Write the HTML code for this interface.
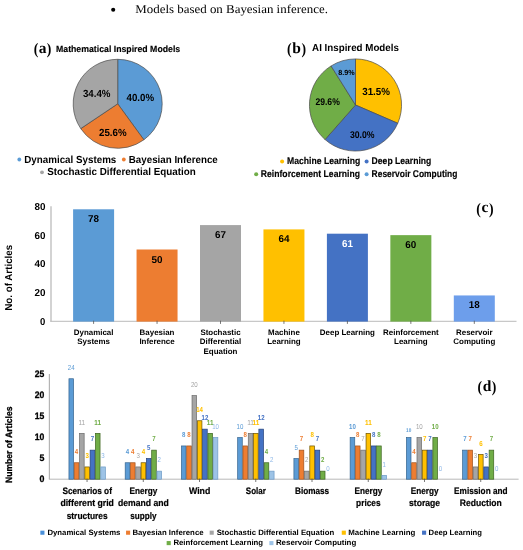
<!DOCTYPE html>
<html><head><meta charset="utf-8"><title>Figure</title>
<style>html,body{margin:0;padding:0;background:#fff}svg{display:block}</style></head>
<body>
<svg width="523" height="550" viewBox="0 0 523 550" text-rendering="geometricPrecision">
<rect width="523" height="550" fill="#fff"/>
<circle cx="113.2" cy="9.75" r="2.05" fill="#000"/>
<text x="135.30" y="13.45" font-size="12" font-weight="normal" fill="#000" text-anchor="start" font-family="Liberation Serif, Times New Roman, serif" textLength="192.60" lengthAdjust="spacingAndGlyphs" >Models based on Bayesian inference.</text>
<text transform="translate(33.70,54.20) scale(0.86,1)" font-size="16.0" font-weight="bold" font-family="Liberation Serif, Times New Roman, serif">(</text>
<text transform="translate(51.30,54.20) scale(0.86,1)" font-size="16.0" font-weight="bold" text-anchor="end" font-family="Liberation Serif, Times New Roman, serif">)</text>
<text x="42.50" y="53.00" font-size="15.5" font-weight="bold" fill="#000" text-anchor="middle" font-family="Liberation Serif, Times New Roman, serif" >a</text>
<text x="56.00" y="52.00" font-size="9.1" font-weight="bold" fill="#000" text-anchor="start" font-family="Liberation Sans, Arial, sans-serif" textLength="124.20" lengthAdjust="spacingAndGlyphs" stroke="#000" stroke-width="0.15">Mathematical Inspired Models</text>
<path d="M117.70,103.80 L117.70,59.30 A44.5,44.5 0 0 1 143.86,139.80 Z" fill="#5B9BD5" stroke="#4a4a4a" stroke-width="0.7" stroke-linejoin="round"/>
<path d="M117.70,103.80 L143.86,139.80 A44.5,44.5 0 0 1 80.74,128.58 Z" fill="#ED7D31" stroke="#4a4a4a" stroke-width="0.7" stroke-linejoin="round"/>
<path d="M117.70,103.80 L80.74,128.58 A44.5,44.5 0 0 1 117.70,59.30 Z" fill="#A5A5A5" stroke="#4a4a4a" stroke-width="0.7" stroke-linejoin="round"/>
<text x="126.50" y="101.00" font-size="10.3" font-weight="bold" fill="#000" text-anchor="start" font-family="Liberation Sans, Arial, sans-serif" textLength="27.60" lengthAdjust="spacingAndGlyphs" >40.0%</text>
<text x="82.90" y="97.00" font-size="10.3" font-weight="bold" fill="#000" text-anchor="start" font-family="Liberation Sans, Arial, sans-serif" textLength="27.60" lengthAdjust="spacingAndGlyphs" >34.4%</text>
<text x="99.00" y="136.00" font-size="10.3" font-weight="bold" fill="#000" text-anchor="start" font-family="Liberation Sans, Arial, sans-serif" textLength="27.60" lengthAdjust="spacingAndGlyphs" >25.6%</text>
<circle cx="19.3" cy="159.5" r="1.9" fill="#5B9BD5"/>
<text x="24.30" y="162.50" font-size="10.25" font-weight="bold" fill="#000" text-anchor="start" font-family="Liberation Sans, Arial, sans-serif" textLength="92.00" lengthAdjust="spacingAndGlyphs" >Dynamical Systems</text>
<circle cx="123.8" cy="159.5" r="1.9" fill="#ED7D31"/>
<text x="128.80" y="162.50" font-size="10.25" font-weight="bold" fill="#000" text-anchor="start" font-family="Liberation Sans, Arial, sans-serif" textLength="89.00" lengthAdjust="spacingAndGlyphs" >Bayesian Inference</text>
<circle cx="42" cy="172.3" r="1.9" fill="#A5A5A5"/>
<text x="47.20" y="175.40" font-size="10.25" font-weight="bold" fill="#000" text-anchor="start" font-family="Liberation Sans, Arial, sans-serif" textLength="148.60" lengthAdjust="spacingAndGlyphs" >Stochastic Differential Equation</text>
<text transform="translate(286.90,53.90) scale(0.86,1)" font-size="16.0" font-weight="bold" font-family="Liberation Serif, Times New Roman, serif">(</text>
<text transform="translate(306.00,53.90) scale(0.86,1)" font-size="16.0" font-weight="bold" text-anchor="end" font-family="Liberation Serif, Times New Roman, serif">)</text>
<text x="296.45" y="52.60" font-size="15.5" font-weight="bold" fill="#000" text-anchor="middle" font-family="Liberation Serif, Times New Roman, serif" >b</text>
<text x="312.10" y="51.00" font-size="10.1" font-weight="bold" fill="#000" text-anchor="start" font-family="Liberation Sans, Arial, sans-serif" textLength="86.80" lengthAdjust="spacingAndGlyphs" >AI Inspired Models</text>
<path d="M355.50,105.00 L355.50,58.95 A46.05,46.05 0 0 1 397.76,123.29 Z" fill="#FFC000" stroke="#4a4a4a" stroke-width="0.7" stroke-linejoin="round"/>
<path d="M355.50,105.00 L397.76,123.29 A46.05,46.05 0 0 1 325.05,139.54 Z" fill="#4472C4" stroke="#4a4a4a" stroke-width="0.7" stroke-linejoin="round"/>
<path d="M355.50,105.00 L325.05,139.54 A46.05,46.05 0 0 1 331.07,65.96 Z" fill="#70AD47" stroke="#4a4a4a" stroke-width="0.7" stroke-linejoin="round"/>
<path d="M355.50,105.00 L331.07,65.96 A46.05,46.05 0 0 1 355.50,58.95 Z" fill="#5B9BD5" stroke="#4a4a4a" stroke-width="0.7" stroke-linejoin="round"/>
<text x="362.20" y="95.00" font-size="10.3" font-weight="bold" fill="#000" text-anchor="start" font-family="Liberation Sans, Arial, sans-serif" textLength="27.80" lengthAdjust="spacingAndGlyphs" >31.5%</text>
<text x="315.40" y="105.00" font-size="9.8" font-weight="bold" fill="#000" text-anchor="start" font-family="Liberation Sans, Arial, sans-serif" textLength="24.40" lengthAdjust="spacingAndGlyphs" >29.6%</text>
<text x="349.90" y="138.00" font-size="9.8" font-weight="bold" fill="#000" text-anchor="start" font-family="Liberation Sans, Arial, sans-serif" textLength="24.60" lengthAdjust="spacingAndGlyphs" >30.0%</text>
<text x="338.20" y="75.00" font-size="7.4" font-weight="bold" fill="#000" text-anchor="start" font-family="Liberation Sans, Arial, sans-serif" textLength="16.40" lengthAdjust="spacingAndGlyphs" >8.9%</text>
<circle cx="282.1" cy="161.5" r="2.0" fill="#FFC000"/>
<text x="287.00" y="164.00" font-size="9.8" font-weight="bold" fill="#000" text-anchor="start" font-family="Liberation Sans, Arial, sans-serif" textLength="73.30" lengthAdjust="spacingAndGlyphs" stroke="#000" stroke-width="0.15">Machine Learning</text>
<circle cx="366.6" cy="161.5" r="2.0" fill="#4472C4"/>
<text x="371.60" y="164.00" font-size="9.8" font-weight="bold" fill="#000" text-anchor="start" font-family="Liberation Sans, Arial, sans-serif" textLength="59.80" lengthAdjust="spacingAndGlyphs" stroke="#000" stroke-width="0.15">Deep Learning</text>
<circle cx="256.2" cy="174.2" r="2.0" fill="#70AD47"/>
<text x="260.80" y="177.00" font-size="9.8" font-weight="bold" fill="#000" text-anchor="start" font-family="Liberation Sans, Arial, sans-serif" textLength="99.20" lengthAdjust="spacingAndGlyphs" stroke="#000" stroke-width="0.15">Reinforcement Learning</text>
<circle cx="366.6" cy="174.2" r="2.0" fill="#5B9BD5"/>
<text x="371.60" y="177.00" font-size="9.8" font-weight="bold" fill="#000" text-anchor="start" font-family="Liberation Sans, Arial, sans-serif" textLength="85.80" lengthAdjust="spacingAndGlyphs" stroke="#000" stroke-width="0.15">Reservoir Computing</text>
<path d="M51.0,206.2 V321.3" fill="none" stroke="#c8c8c8" stroke-width="1.6"/>
<path d="M50.2,321.3 H516.5" fill="none" stroke="#a8a8a8" stroke-width="0.8"/>
<text x="40.10" y="324.80" font-size="10" font-weight="bold" fill="#000" text-anchor="start" font-family="Liberation Sans, Arial, sans-serif" textLength="5.30" lengthAdjust="spacingAndGlyphs" >0</text>
<text x="34.40" y="296.08" font-size="10" font-weight="bold" fill="#000" text-anchor="start" font-family="Liberation Sans, Arial, sans-serif" textLength="11.00" lengthAdjust="spacingAndGlyphs" >20</text>
<text x="34.40" y="267.36" font-size="10" font-weight="bold" fill="#000" text-anchor="start" font-family="Liberation Sans, Arial, sans-serif" textLength="11.00" lengthAdjust="spacingAndGlyphs" >40</text>
<text x="34.40" y="238.64" font-size="10" font-weight="bold" fill="#000" text-anchor="start" font-family="Liberation Sans, Arial, sans-serif" textLength="11.00" lengthAdjust="spacingAndGlyphs" >60</text>
<text x="34.40" y="209.92" font-size="10" font-weight="bold" fill="#000" text-anchor="start" font-family="Liberation Sans, Arial, sans-serif" textLength="11.00" lengthAdjust="spacingAndGlyphs" >80</text>
<rect x="73.10" y="209.29" width="41" height="112.31" fill="#5B9BD5"/>
<text x="88.10" y="222.29" font-size="10" font-weight="bold" fill="#000" text-anchor="start" font-family="Liberation Sans, Arial, sans-serif" textLength="11.00" lengthAdjust="spacingAndGlyphs" >78</text>
<text x="93.60" y="334.80" font-size="7.95" font-weight="bold" fill="#000" text-anchor="middle" font-family="Liberation Sans, Arial, sans-serif" >Dynamical</text>
<text x="93.60" y="344.35" font-size="7.95" font-weight="bold" fill="#000" text-anchor="middle" font-family="Liberation Sans, Arial, sans-serif" >Systems</text>
<rect x="136.55" y="249.50" width="41" height="72.10" fill="#ED7D31"/>
<text x="151.55" y="262.50" font-size="10" font-weight="bold" fill="#000" text-anchor="start" font-family="Liberation Sans, Arial, sans-serif" textLength="11.00" lengthAdjust="spacingAndGlyphs" >50</text>
<text x="157.05" y="334.80" font-size="7.95" font-weight="bold" fill="#000" text-anchor="middle" font-family="Liberation Sans, Arial, sans-serif" >Bayesian</text>
<text x="157.05" y="344.35" font-size="7.95" font-weight="bold" fill="#000" text-anchor="middle" font-family="Liberation Sans, Arial, sans-serif" >Inference</text>
<rect x="200.00" y="225.09" width="41" height="96.51" fill="#A5A5A5"/>
<text x="215.00" y="238.09" font-size="10" font-weight="bold" fill="#000" text-anchor="start" font-family="Liberation Sans, Arial, sans-serif" textLength="11.00" lengthAdjust="spacingAndGlyphs" >67</text>
<text x="220.50" y="334.80" font-size="7.95" font-weight="bold" fill="#000" text-anchor="middle" font-family="Liberation Sans, Arial, sans-serif" >Stochastic</text>
<text x="220.50" y="344.35" font-size="7.95" font-weight="bold" fill="#000" text-anchor="middle" font-family="Liberation Sans, Arial, sans-serif" >Differential</text>
<text x="220.50" y="353.90" font-size="7.95" font-weight="bold" fill="#000" text-anchor="middle" font-family="Liberation Sans, Arial, sans-serif" >Equation</text>
<rect x="263.45" y="229.40" width="41" height="92.20" fill="#FFC000"/>
<text x="278.45" y="242.40" font-size="10" font-weight="bold" fill="#000" text-anchor="start" font-family="Liberation Sans, Arial, sans-serif" textLength="11.00" lengthAdjust="spacingAndGlyphs" >64</text>
<text x="283.95" y="334.80" font-size="7.95" font-weight="bold" fill="#000" text-anchor="middle" font-family="Liberation Sans, Arial, sans-serif" >Machine</text>
<text x="283.95" y="344.35" font-size="7.95" font-weight="bold" fill="#000" text-anchor="middle" font-family="Liberation Sans, Arial, sans-serif" >Learning</text>
<rect x="326.90" y="233.70" width="41" height="87.90" fill="#4472C4"/>
<text x="341.90" y="246.70" font-size="10" font-weight="bold" fill="#fff" text-anchor="start" font-family="Liberation Sans, Arial, sans-serif" textLength="11.00" lengthAdjust="spacingAndGlyphs" >61</text>
<text x="347.40" y="334.80" font-size="7.95" font-weight="bold" fill="#000" text-anchor="middle" font-family="Liberation Sans, Arial, sans-serif" >Deep Learning</text>
<rect x="390.35" y="235.14" width="41" height="86.46" fill="#70AD47"/>
<text x="405.35" y="248.14" font-size="10" font-weight="bold" fill="#000" text-anchor="start" font-family="Liberation Sans, Arial, sans-serif" textLength="11.00" lengthAdjust="spacingAndGlyphs" >60</text>
<text x="410.85" y="334.80" font-size="7.95" font-weight="bold" fill="#000" text-anchor="middle" font-family="Liberation Sans, Arial, sans-serif" >Reinforcement</text>
<text x="410.85" y="344.35" font-size="7.95" font-weight="bold" fill="#000" text-anchor="middle" font-family="Liberation Sans, Arial, sans-serif" >Learning</text>
<rect x="453.80" y="295.45" width="41" height="26.15" fill="#6D9EEB"/>
<text x="468.80" y="308.45" font-size="10" font-weight="bold" fill="#000" text-anchor="start" font-family="Liberation Sans, Arial, sans-serif" textLength="11.00" lengthAdjust="spacingAndGlyphs" >18</text>
<text x="474.30" y="334.80" font-size="7.95" font-weight="bold" fill="#000" text-anchor="middle" font-family="Liberation Sans, Arial, sans-serif" >Reservoir</text>
<text x="474.30" y="344.35" font-size="7.95" font-weight="bold" fill="#000" text-anchor="middle" font-family="Liberation Sans, Arial, sans-serif" >Computing</text>
<path d="M93.60,320.7 v3.2" stroke="#555" stroke-width="0.8"/>
<path d="M157.05,320.7 v3.2" stroke="#555" stroke-width="0.8"/>
<path d="M220.50,320.7 v3.2" stroke="#555" stroke-width="0.8"/>
<path d="M283.95,320.7 v3.2" stroke="#555" stroke-width="0.8"/>
<path d="M347.40,320.7 v3.2" stroke="#555" stroke-width="0.8"/>
<path d="M410.85,320.7 v3.2" stroke="#555" stroke-width="0.8"/>
<path d="M474.30,320.7 v3.2" stroke="#555" stroke-width="0.8"/>
<text x="-33.00" y="0.00" font-size="10.1" font-weight="bold" fill="#000" text-anchor="start" font-family="Liberation Sans, Arial, sans-serif" textLength="66.00" lengthAdjust="spacingAndGlyphs" transform="translate(12,277.8) rotate(-90)">No. of Articles</text>
<text transform="translate(476.20,213.50) scale(0.86,1)" font-size="16.0" font-weight="bold" font-family="Liberation Serif, Times New Roman, serif">(</text>
<text transform="translate(493.60,213.50) scale(0.86,1)" font-size="16.0" font-weight="bold" text-anchor="end" font-family="Liberation Serif, Times New Roman, serif">)</text>
<text x="484.90" y="211.90" font-size="15.5" font-weight="bold" fill="#000" text-anchor="middle" font-family="Liberation Serif, Times New Roman, serif" >c</text>
<path d="M49.4,374.1 V479.2" fill="none" stroke="#b4b4b4" stroke-width="1.2"/>
<path d="M48.9,479.2 H518.6" fill="none" stroke="#b0b0b0" stroke-width="0.9"/>
<text x="39.40" y="482.10" font-size="9.3" font-weight="bold" fill="#000" text-anchor="start" font-family="Liberation Sans, Arial, sans-serif" textLength="4.90" lengthAdjust="spacingAndGlyphs" stroke="#000" stroke-width="0.3">0</text>
<text x="39.40" y="461.10" font-size="9.3" font-weight="bold" fill="#000" text-anchor="start" font-family="Liberation Sans, Arial, sans-serif" textLength="4.90" lengthAdjust="spacingAndGlyphs" stroke="#000" stroke-width="0.3">5</text>
<text x="34.70" y="440.10" font-size="9.3" font-weight="bold" fill="#000" text-anchor="start" font-family="Liberation Sans, Arial, sans-serif" textLength="9.60" lengthAdjust="spacingAndGlyphs" stroke="#000" stroke-width="0.3">10</text>
<text x="34.70" y="419.10" font-size="9.3" font-weight="bold" fill="#000" text-anchor="start" font-family="Liberation Sans, Arial, sans-serif" textLength="9.60" lengthAdjust="spacingAndGlyphs" stroke="#000" stroke-width="0.3">15</text>
<text x="34.70" y="398.10" font-size="9.3" font-weight="bold" fill="#000" text-anchor="start" font-family="Liberation Sans, Arial, sans-serif" textLength="9.60" lengthAdjust="spacingAndGlyphs" stroke="#000" stroke-width="0.3">20</text>
<text x="34.70" y="377.10" font-size="9.3" font-weight="bold" fill="#000" text-anchor="start" font-family="Liberation Sans, Arial, sans-serif" textLength="9.60" lengthAdjust="spacingAndGlyphs" stroke="#000" stroke-width="0.3">25</text>
<rect x="68.95" y="378.75" width="4.60" height="100.45" fill="#5B9BD5" stroke="#35648F" stroke-width="0.7"/>
<text x="67.85" y="370.00" font-size="7.2" font-weight="normal" fill="#5B9BD5" text-anchor="start" font-family="Liberation Sans, Arial, sans-serif" textLength="6.80" lengthAdjust="spacingAndGlyphs" >24</text>
<rect x="74.25" y="462.75" width="4.60" height="16.45" fill="#ED7D31" stroke="#A0501A" stroke-width="0.7"/>
<text x="74.85" y="454.00" font-size="7.2" font-weight="bold" fill="#ED7D31" text-anchor="start" font-family="Liberation Sans, Arial, sans-serif" textLength="3.40" lengthAdjust="spacingAndGlyphs" >4</text>
<rect x="79.55" y="433.35" width="4.60" height="45.85" fill="#A5A5A5" stroke="#6b6b6b" stroke-width="0.7"/>
<text x="78.45" y="424.60" font-size="7.2" font-weight="normal" fill="#A5A5A5" text-anchor="start" font-family="Liberation Sans, Arial, sans-serif" textLength="6.80" lengthAdjust="spacingAndGlyphs" >11</text>
<rect x="84.85" y="466.95" width="4.60" height="12.25" fill="#FFC000" stroke="#6b5200" stroke-width="0.7"/>
<text x="85.45" y="458.20" font-size="7.2" font-weight="bold" fill="#FFC000" text-anchor="start" font-family="Liberation Sans, Arial, sans-serif" textLength="3.40" lengthAdjust="spacingAndGlyphs" >3</text>
<rect x="90.15" y="450.15" width="4.60" height="29.05" fill="#4472C4" stroke="#23407a" stroke-width="0.7"/>
<text x="90.75" y="441.40" font-size="7.2" font-weight="bold" fill="#4472C4" text-anchor="start" font-family="Liberation Sans, Arial, sans-serif" textLength="3.40" lengthAdjust="spacingAndGlyphs" >7</text>
<rect x="95.45" y="433.35" width="4.60" height="45.85" fill="#70AD47" stroke="#3c6420" stroke-width="0.7"/>
<text x="94.35" y="424.60" font-size="7.2" font-weight="bold" fill="#70AD47" text-anchor="start" font-family="Liberation Sans, Arial, sans-serif" textLength="6.80" lengthAdjust="spacingAndGlyphs" >11</text>
<rect x="100.75" y="466.95" width="4.60" height="12.25" fill="#9DC3E6" stroke="#6c9ac6" stroke-width="0.7"/>
<text x="101.35" y="458.20" font-size="7.2" font-weight="normal" fill="#8FB8E8" text-anchor="start" font-family="Liberation Sans, Arial, sans-serif" textLength="3.40" lengthAdjust="spacingAndGlyphs" >3</text>
<text x="62.40" y="493.50" font-size="9.4" font-weight="bold" fill="#000" text-anchor="start" font-family="Liberation Sans, Arial, sans-serif" textLength="49.50" lengthAdjust="spacingAndGlyphs" stroke="#000" stroke-width="0.2">Scenarios of</text>
<text x="60.40" y="506.10" font-size="9.4" font-weight="bold" fill="#000" text-anchor="start" font-family="Liberation Sans, Arial, sans-serif" textLength="53.50" lengthAdjust="spacingAndGlyphs" stroke="#000" stroke-width="0.2">different grid</text>
<text x="66.70" y="518.70" font-size="9.4" font-weight="bold" fill="#000" text-anchor="start" font-family="Liberation Sans, Arial, sans-serif" textLength="40.90" lengthAdjust="spacingAndGlyphs" stroke="#000" stroke-width="0.2">structures</text>
<rect x="125.19" y="462.75" width="4.60" height="16.45" fill="#5B9BD5" stroke="#35648F" stroke-width="0.7"/>
<text x="125.79" y="454.00" font-size="7.2" font-weight="bold" fill="#5B9BD5" text-anchor="start" font-family="Liberation Sans, Arial, sans-serif" textLength="3.40" lengthAdjust="spacingAndGlyphs" >4</text>
<rect x="130.49" y="462.75" width="4.60" height="16.45" fill="#ED7D31" stroke="#A0501A" stroke-width="0.7"/>
<text x="131.09" y="454.00" font-size="7.2" font-weight="bold" fill="#ED7D31" text-anchor="start" font-family="Liberation Sans, Arial, sans-serif" textLength="3.40" lengthAdjust="spacingAndGlyphs" >4</text>
<rect x="135.79" y="466.95" width="4.60" height="12.25" fill="#A5A5A5" stroke="#6b6b6b" stroke-width="0.7"/>
<text x="136.39" y="458.20" font-size="7.2" font-weight="normal" fill="#A5A5A5" text-anchor="start" font-family="Liberation Sans, Arial, sans-serif" textLength="3.40" lengthAdjust="spacingAndGlyphs" >3</text>
<rect x="141.09" y="462.75" width="4.60" height="16.45" fill="#FFC000" stroke="#6b5200" stroke-width="0.7"/>
<text x="141.69" y="454.00" font-size="7.2" font-weight="bold" fill="#FFC000" text-anchor="start" font-family="Liberation Sans, Arial, sans-serif" textLength="3.40" lengthAdjust="spacingAndGlyphs" >4</text>
<rect x="146.39" y="458.55" width="4.60" height="20.65" fill="#4472C4" stroke="#23407a" stroke-width="0.7"/>
<text x="146.99" y="449.80" font-size="7.2" font-weight="bold" fill="#4472C4" text-anchor="start" font-family="Liberation Sans, Arial, sans-serif" textLength="3.40" lengthAdjust="spacingAndGlyphs" >5</text>
<rect x="151.69" y="450.15" width="4.60" height="29.05" fill="#70AD47" stroke="#3c6420" stroke-width="0.7"/>
<text x="152.29" y="441.40" font-size="7.2" font-weight="bold" fill="#70AD47" text-anchor="start" font-family="Liberation Sans, Arial, sans-serif" textLength="3.40" lengthAdjust="spacingAndGlyphs" >7</text>
<rect x="156.99" y="471.15" width="4.60" height="8.05" fill="#9DC3E6" stroke="#6c9ac6" stroke-width="0.7"/>
<text x="157.59" y="462.40" font-size="7.2" font-weight="normal" fill="#8FB8E8" text-anchor="start" font-family="Liberation Sans, Arial, sans-serif" textLength="3.40" lengthAdjust="spacingAndGlyphs" >2</text>
<text x="129.49" y="493.50" font-size="9.4" font-weight="bold" fill="#000" text-anchor="start" font-family="Liberation Sans, Arial, sans-serif" textLength="27.80" lengthAdjust="spacingAndGlyphs" stroke="#000" stroke-width="0.2">Energy</text>
<text x="117.94" y="506.10" font-size="9.4" font-weight="bold" fill="#000" text-anchor="start" font-family="Liberation Sans, Arial, sans-serif" textLength="50.90" lengthAdjust="spacingAndGlyphs" stroke="#000" stroke-width="0.2">demand and</text>
<text x="130.29" y="518.70" font-size="9.4" font-weight="bold" fill="#000" text-anchor="start" font-family="Liberation Sans, Arial, sans-serif" textLength="26.20" lengthAdjust="spacingAndGlyphs" stroke="#000" stroke-width="0.2">supply</text>
<rect x="181.43" y="445.95" width="4.60" height="33.25" fill="#5B9BD5" stroke="#35648F" stroke-width="0.7"/>
<text x="182.03" y="437.20" font-size="7.2" font-weight="bold" fill="#5B9BD5" text-anchor="start" font-family="Liberation Sans, Arial, sans-serif" textLength="3.40" lengthAdjust="spacingAndGlyphs" >8</text>
<rect x="186.73" y="445.95" width="4.60" height="33.25" fill="#ED7D31" stroke="#A0501A" stroke-width="0.7"/>
<text x="187.33" y="437.20" font-size="7.2" font-weight="bold" fill="#ED7D31" text-anchor="start" font-family="Liberation Sans, Arial, sans-serif" textLength="3.40" lengthAdjust="spacingAndGlyphs" >8</text>
<rect x="192.03" y="395.55" width="4.60" height="83.65" fill="#A5A5A5" stroke="#6b6b6b" stroke-width="0.7"/>
<text x="190.93" y="386.80" font-size="7.2" font-weight="normal" fill="#A5A5A5" text-anchor="start" font-family="Liberation Sans, Arial, sans-serif" textLength="6.80" lengthAdjust="spacingAndGlyphs" >20</text>
<rect x="197.33" y="420.75" width="4.60" height="58.45" fill="#FFC000" stroke="#6b5200" stroke-width="0.7"/>
<text x="196.23" y="412.00" font-size="7.2" font-weight="bold" fill="#FFC000" text-anchor="start" font-family="Liberation Sans, Arial, sans-serif" textLength="6.80" lengthAdjust="spacingAndGlyphs" >14</text>
<rect x="202.63" y="429.15" width="4.60" height="50.05" fill="#4472C4" stroke="#23407a" stroke-width="0.7"/>
<text x="201.53" y="420.40" font-size="7.2" font-weight="bold" fill="#4472C4" text-anchor="start" font-family="Liberation Sans, Arial, sans-serif" textLength="6.80" lengthAdjust="spacingAndGlyphs" >12</text>
<rect x="207.93" y="433.35" width="4.60" height="45.85" fill="#70AD47" stroke="#3c6420" stroke-width="0.7"/>
<text x="206.83" y="424.60" font-size="7.2" font-weight="bold" fill="#70AD47" text-anchor="start" font-family="Liberation Sans, Arial, sans-serif" textLength="6.80" lengthAdjust="spacingAndGlyphs" >11</text>
<rect x="213.23" y="437.55" width="4.60" height="41.65" fill="#9DC3E6" stroke="#6c9ac6" stroke-width="0.7"/>
<text x="212.13" y="428.80" font-size="7.2" font-weight="normal" fill="#8FB8E8" text-anchor="start" font-family="Liberation Sans, Arial, sans-serif" textLength="6.80" lengthAdjust="spacingAndGlyphs" >10</text>
<text x="188.93" y="493.50" font-size="9.4" font-weight="bold" fill="#000" text-anchor="start" font-family="Liberation Sans, Arial, sans-serif" textLength="21.40" lengthAdjust="spacingAndGlyphs" stroke="#000" stroke-width="0.2">Wind</text>
<rect x="237.67" y="437.55" width="4.60" height="41.65" fill="#5B9BD5" stroke="#35648F" stroke-width="0.7"/>
<text x="236.57" y="428.80" font-size="7.2" font-weight="normal" fill="#5B9BD5" text-anchor="start" font-family="Liberation Sans, Arial, sans-serif" textLength="6.80" lengthAdjust="spacingAndGlyphs" >10</text>
<rect x="242.97" y="445.95" width="4.60" height="33.25" fill="#ED7D31" stroke="#A0501A" stroke-width="0.7"/>
<text x="243.57" y="437.20" font-size="7.2" font-weight="bold" fill="#ED7D31" text-anchor="start" font-family="Liberation Sans, Arial, sans-serif" textLength="3.40" lengthAdjust="spacingAndGlyphs" >8</text>
<rect x="248.27" y="433.35" width="4.60" height="45.85" fill="#A5A5A5" stroke="#6b6b6b" stroke-width="0.7"/>
<text x="247.17" y="424.60" font-size="7.2" font-weight="normal" fill="#A5A5A5" text-anchor="start" font-family="Liberation Sans, Arial, sans-serif" textLength="6.80" lengthAdjust="spacingAndGlyphs" >11</text>
<rect x="253.57" y="433.35" width="4.60" height="45.85" fill="#FFC000" stroke="#6b5200" stroke-width="0.7"/>
<text x="252.47" y="424.60" font-size="7.2" font-weight="bold" fill="#FFC000" text-anchor="start" font-family="Liberation Sans, Arial, sans-serif" textLength="6.80" lengthAdjust="spacingAndGlyphs" >11</text>
<rect x="258.87" y="429.15" width="4.60" height="50.05" fill="#4472C4" stroke="#23407a" stroke-width="0.7"/>
<text x="257.77" y="420.40" font-size="7.2" font-weight="bold" fill="#4472C4" text-anchor="start" font-family="Liberation Sans, Arial, sans-serif" textLength="6.80" lengthAdjust="spacingAndGlyphs" >12</text>
<rect x="264.17" y="462.75" width="4.60" height="16.45" fill="#70AD47" stroke="#3c6420" stroke-width="0.7"/>
<text x="264.77" y="454.00" font-size="7.2" font-weight="bold" fill="#70AD47" text-anchor="start" font-family="Liberation Sans, Arial, sans-serif" textLength="3.40" lengthAdjust="spacingAndGlyphs" >4</text>
<rect x="269.47" y="471.15" width="4.60" height="8.05" fill="#9DC3E6" stroke="#6c9ac6" stroke-width="0.7"/>
<text x="270.07" y="462.40" font-size="7.2" font-weight="normal" fill="#8FB8E8" text-anchor="start" font-family="Liberation Sans, Arial, sans-serif" textLength="3.40" lengthAdjust="spacingAndGlyphs" >2</text>
<text x="245.87" y="493.50" font-size="9.4" font-weight="bold" fill="#000" text-anchor="start" font-family="Liberation Sans, Arial, sans-serif" textLength="20.00" lengthAdjust="spacingAndGlyphs" stroke="#000" stroke-width="0.2">Solar</text>
<rect x="293.91" y="458.55" width="4.60" height="20.65" fill="#5B9BD5" stroke="#35648F" stroke-width="0.7"/>
<text x="294.51" y="449.80" font-size="7.2" font-weight="normal" fill="#5B9BD5" text-anchor="start" font-family="Liberation Sans, Arial, sans-serif" textLength="3.40" lengthAdjust="spacingAndGlyphs" >5</text>
<rect x="299.21" y="450.15" width="4.60" height="29.05" fill="#ED7D31" stroke="#A0501A" stroke-width="0.7"/>
<text x="299.81" y="441.40" font-size="7.2" font-weight="bold" fill="#ED7D31" text-anchor="start" font-family="Liberation Sans, Arial, sans-serif" textLength="3.40" lengthAdjust="spacingAndGlyphs" >7</text>
<rect x="304.51" y="471.15" width="4.60" height="8.05" fill="#A5A5A5" stroke="#6b6b6b" stroke-width="0.7"/>
<text x="305.11" y="462.40" font-size="7.2" font-weight="normal" fill="#A5A5A5" text-anchor="start" font-family="Liberation Sans, Arial, sans-serif" textLength="3.40" lengthAdjust="spacingAndGlyphs" >2</text>
<rect x="309.81" y="445.95" width="4.60" height="33.25" fill="#FFC000" stroke="#6b5200" stroke-width="0.7"/>
<text x="310.41" y="437.20" font-size="7.2" font-weight="bold" fill="#FFC000" text-anchor="start" font-family="Liberation Sans, Arial, sans-serif" textLength="3.40" lengthAdjust="spacingAndGlyphs" >8</text>
<rect x="315.11" y="450.15" width="4.60" height="29.05" fill="#4472C4" stroke="#23407a" stroke-width="0.7"/>
<text x="315.71" y="441.40" font-size="7.2" font-weight="bold" fill="#4472C4" text-anchor="start" font-family="Liberation Sans, Arial, sans-serif" textLength="3.40" lengthAdjust="spacingAndGlyphs" >7</text>
<rect x="320.41" y="471.15" width="4.60" height="8.05" fill="#70AD47" stroke="#3c6420" stroke-width="0.7"/>
<text x="321.01" y="462.40" font-size="7.2" font-weight="bold" fill="#70AD47" text-anchor="start" font-family="Liberation Sans, Arial, sans-serif" textLength="3.40" lengthAdjust="spacingAndGlyphs" >2</text>
<text x="326.31" y="470.80" font-size="7.2" font-weight="normal" fill="#8FB8E8" text-anchor="start" font-family="Liberation Sans, Arial, sans-serif" textLength="3.40" lengthAdjust="spacingAndGlyphs" >0</text>
<text x="295.06" y="493.50" font-size="9.4" font-weight="bold" fill="#000" text-anchor="start" font-family="Liberation Sans, Arial, sans-serif" textLength="34.10" lengthAdjust="spacingAndGlyphs" stroke="#000" stroke-width="0.2">Biomass</text>
<rect x="350.15" y="437.55" width="4.60" height="41.65" fill="#5B9BD5" stroke="#35648F" stroke-width="0.7"/>
<text x="349.05" y="428.80" font-size="7.2" font-weight="bold" fill="#5B9BD5" text-anchor="start" font-family="Liberation Sans, Arial, sans-serif" textLength="6.80" lengthAdjust="spacingAndGlyphs" >10</text>
<rect x="355.45" y="445.95" width="4.60" height="33.25" fill="#ED7D31" stroke="#A0501A" stroke-width="0.7"/>
<text x="356.05" y="437.20" font-size="7.2" font-weight="bold" fill="#ED7D31" text-anchor="start" font-family="Liberation Sans, Arial, sans-serif" textLength="3.40" lengthAdjust="spacingAndGlyphs" >8</text>
<rect x="360.75" y="450.15" width="4.60" height="29.05" fill="#A5A5A5" stroke="#6b6b6b" stroke-width="0.7"/>
<text x="361.35" y="441.40" font-size="7.2" font-weight="normal" fill="#A5A5A5" text-anchor="start" font-family="Liberation Sans, Arial, sans-serif" textLength="3.40" lengthAdjust="spacingAndGlyphs" >7</text>
<rect x="366.05" y="433.35" width="4.60" height="45.85" fill="#FFC000" stroke="#6b5200" stroke-width="0.7"/>
<text x="364.95" y="424.60" font-size="7.2" font-weight="bold" fill="#FFC000" text-anchor="start" font-family="Liberation Sans, Arial, sans-serif" textLength="6.80" lengthAdjust="spacingAndGlyphs" >11</text>
<rect x="371.35" y="445.95" width="4.60" height="33.25" fill="#4472C4" stroke="#23407a" stroke-width="0.7"/>
<text x="371.95" y="437.20" font-size="7.2" font-weight="bold" fill="#4472C4" text-anchor="start" font-family="Liberation Sans, Arial, sans-serif" textLength="3.40" lengthAdjust="spacingAndGlyphs" >8</text>
<rect x="376.65" y="445.95" width="4.60" height="33.25" fill="#70AD47" stroke="#3c6420" stroke-width="0.7"/>
<text x="377.25" y="437.20" font-size="7.2" font-weight="bold" fill="#70AD47" text-anchor="start" font-family="Liberation Sans, Arial, sans-serif" textLength="3.40" lengthAdjust="spacingAndGlyphs" >8</text>
<rect x="381.95" y="475.35" width="4.60" height="3.85" fill="#9DC3E6" stroke="#6c9ac6" stroke-width="0.7"/>
<text x="382.55" y="466.60" font-size="7.2" font-weight="normal" fill="#8FB8E8" text-anchor="start" font-family="Liberation Sans, Arial, sans-serif" textLength="3.40" lengthAdjust="spacingAndGlyphs" >1</text>
<text x="354.45" y="493.50" font-size="9.4" font-weight="bold" fill="#000" text-anchor="start" font-family="Liberation Sans, Arial, sans-serif" textLength="27.80" lengthAdjust="spacingAndGlyphs" stroke="#000" stroke-width="0.2">Energy</text>
<text x="356.10" y="506.10" font-size="9.4" font-weight="bold" fill="#000" text-anchor="start" font-family="Liberation Sans, Arial, sans-serif" textLength="24.50" lengthAdjust="spacingAndGlyphs" stroke="#000" stroke-width="0.2">prices</text>
<rect x="406.39" y="437.55" width="4.60" height="41.65" fill="#5B9BD5" stroke="#35648F" stroke-width="0.7"/>
<text x="406.09" y="431.80" font-size="5.4" font-weight="bold" fill="#5B9BD5" text-anchor="start" font-family="Liberation Sans, Arial, sans-serif" textLength="5.20" lengthAdjust="spacingAndGlyphs" >10</text>
<rect x="411.69" y="462.75" width="4.60" height="16.45" fill="#ED7D31" stroke="#A0501A" stroke-width="0.7"/>
<text x="412.29" y="454.00" font-size="7.2" font-weight="bold" fill="#ED7D31" text-anchor="start" font-family="Liberation Sans, Arial, sans-serif" textLength="3.40" lengthAdjust="spacingAndGlyphs" >4</text>
<rect x="416.99" y="437.55" width="4.60" height="41.65" fill="#A5A5A5" stroke="#6b6b6b" stroke-width="0.7"/>
<text x="415.89" y="428.80" font-size="7.2" font-weight="normal" fill="#A5A5A5" text-anchor="start" font-family="Liberation Sans, Arial, sans-serif" textLength="6.80" lengthAdjust="spacingAndGlyphs" >10</text>
<rect x="422.29" y="450.15" width="4.60" height="29.05" fill="#FFC000" stroke="#6b5200" stroke-width="0.7"/>
<text x="422.89" y="441.40" font-size="7.2" font-weight="bold" fill="#FFC000" text-anchor="start" font-family="Liberation Sans, Arial, sans-serif" textLength="3.40" lengthAdjust="spacingAndGlyphs" >7</text>
<rect x="427.59" y="450.15" width="4.60" height="29.05" fill="#4472C4" stroke="#23407a" stroke-width="0.7"/>
<text x="428.19" y="441.40" font-size="7.2" font-weight="bold" fill="#4472C4" text-anchor="start" font-family="Liberation Sans, Arial, sans-serif" textLength="3.40" lengthAdjust="spacingAndGlyphs" >7</text>
<rect x="432.89" y="437.55" width="4.60" height="41.65" fill="#70AD47" stroke="#3c6420" stroke-width="0.7"/>
<text x="431.79" y="428.80" font-size="7.2" font-weight="bold" fill="#70AD47" text-anchor="start" font-family="Liberation Sans, Arial, sans-serif" textLength="6.80" lengthAdjust="spacingAndGlyphs" >10</text>
<text x="438.79" y="470.80" font-size="7.2" font-weight="normal" fill="#8FB8E8" text-anchor="start" font-family="Liberation Sans, Arial, sans-serif" textLength="3.40" lengthAdjust="spacingAndGlyphs" >0</text>
<text x="410.69" y="493.50" font-size="9.4" font-weight="bold" fill="#000" text-anchor="start" font-family="Liberation Sans, Arial, sans-serif" textLength="27.80" lengthAdjust="spacingAndGlyphs" stroke="#000" stroke-width="0.2">Energy</text>
<text x="409.04" y="506.10" font-size="9.4" font-weight="bold" fill="#000" text-anchor="start" font-family="Liberation Sans, Arial, sans-serif" textLength="31.10" lengthAdjust="spacingAndGlyphs" stroke="#000" stroke-width="0.2">storage</text>
<rect x="462.63" y="450.15" width="4.60" height="29.05" fill="#5B9BD5" stroke="#35648F" stroke-width="0.7"/>
<text x="463.23" y="441.40" font-size="7.2" font-weight="bold" fill="#5B9BD5" text-anchor="start" font-family="Liberation Sans, Arial, sans-serif" textLength="3.40" lengthAdjust="spacingAndGlyphs" >7</text>
<rect x="467.93" y="450.15" width="4.60" height="29.05" fill="#ED7D31" stroke="#A0501A" stroke-width="0.7"/>
<text x="468.53" y="441.40" font-size="7.2" font-weight="bold" fill="#ED7D31" text-anchor="start" font-family="Liberation Sans, Arial, sans-serif" textLength="3.40" lengthAdjust="spacingAndGlyphs" >7</text>
<rect x="473.23" y="466.95" width="4.60" height="12.25" fill="#A5A5A5" stroke="#6b6b6b" stroke-width="0.7"/>
<text x="473.83" y="458.20" font-size="7.2" font-weight="normal" fill="#A5A5A5" text-anchor="start" font-family="Liberation Sans, Arial, sans-serif" textLength="3.40" lengthAdjust="spacingAndGlyphs" >3</text>
<rect x="478.53" y="454.35" width="4.60" height="24.85" fill="#FFC000" stroke="#6b5200" stroke-width="0.7"/>
<text x="479.13" y="445.60" font-size="7.2" font-weight="bold" fill="#FFC000" text-anchor="start" font-family="Liberation Sans, Arial, sans-serif" textLength="3.40" lengthAdjust="spacingAndGlyphs" >6</text>
<rect x="483.83" y="466.95" width="4.60" height="12.25" fill="#4472C4" stroke="#23407a" stroke-width="0.7"/>
<text x="484.43" y="458.20" font-size="7.2" font-weight="bold" fill="#4472C4" text-anchor="start" font-family="Liberation Sans, Arial, sans-serif" textLength="3.40" lengthAdjust="spacingAndGlyphs" >3</text>
<rect x="489.13" y="450.15" width="4.60" height="29.05" fill="#70AD47" stroke="#3c6420" stroke-width="0.7"/>
<text x="489.73" y="441.40" font-size="7.2" font-weight="bold" fill="#70AD47" text-anchor="start" font-family="Liberation Sans, Arial, sans-serif" textLength="3.40" lengthAdjust="spacingAndGlyphs" >7</text>
<text x="495.03" y="470.80" font-size="7.2" font-weight="normal" fill="#8FB8E8" text-anchor="start" font-family="Liberation Sans, Arial, sans-serif" textLength="3.40" lengthAdjust="spacingAndGlyphs" >0</text>
<text x="454.08" y="493.50" font-size="9.4" font-weight="bold" fill="#000" text-anchor="start" font-family="Liberation Sans, Arial, sans-serif" textLength="53.50" lengthAdjust="spacingAndGlyphs" stroke="#000" stroke-width="0.2">Emission and</text>
<text x="459.83" y="506.10" font-size="9.4" font-weight="bold" fill="#000" text-anchor="start" font-family="Liberation Sans, Arial, sans-serif" textLength="42.00" lengthAdjust="spacingAndGlyphs" stroke="#000" stroke-width="0.2">Reduction</text>
<path d="M87.05,478.59999999999997 v3.4" stroke="#555" stroke-width="0.8"/>
<path d="M143.29,478.59999999999997 v3.4" stroke="#555" stroke-width="0.8"/>
<path d="M199.53,478.59999999999997 v3.4" stroke="#555" stroke-width="0.8"/>
<path d="M255.77,478.59999999999997 v3.4" stroke="#555" stroke-width="0.8"/>
<path d="M312.01,478.59999999999997 v3.4" stroke="#555" stroke-width="0.8"/>
<path d="M368.25,478.59999999999997 v3.4" stroke="#555" stroke-width="0.8"/>
<path d="M424.49,478.59999999999997 v3.4" stroke="#555" stroke-width="0.8"/>
<path d="M480.73,478.59999999999997 v3.4" stroke="#555" stroke-width="0.8"/>
<text x="-38.25" y="0.00" font-size="9.2" font-weight="bold" fill="#000" text-anchor="start" font-family="Liberation Sans, Arial, sans-serif" textLength="76.50" lengthAdjust="spacingAndGlyphs" stroke="#000" stroke-width="0.3" transform="translate(11.9,444.75) rotate(-90)">Number of Articles</text>
<text transform="translate(477.60,392.20) scale(0.86,1)" font-size="16.0" font-weight="bold" font-family="Liberation Serif, Times New Roman, serif">(</text>
<text transform="translate(496.30,392.20) scale(0.86,1)" font-size="16.0" font-weight="bold" text-anchor="end" font-family="Liberation Serif, Times New Roman, serif">)</text>
<text x="486.95" y="390.60" font-size="15.5" font-weight="bold" fill="#000" text-anchor="middle" font-family="Liberation Serif, Times New Roman, serif" >d</text>
<rect x="40.35" y="530.6500000000001" width="4.1" height="4.1" fill="#4A90D9"/>
<text x="47.40" y="535.00" font-size="7.75" font-weight="bold" fill="#000" text-anchor="start" font-family="Liberation Sans, Arial, sans-serif" textLength="73.00" lengthAdjust="spacingAndGlyphs" >Dynamical Systems</text>
<rect x="126.05" y="530.6500000000001" width="4.1" height="4.1" fill="#ED7D31"/>
<text x="132.40" y="535.00" font-size="7.75" font-weight="bold" fill="#000" text-anchor="start" font-family="Liberation Sans, Arial, sans-serif" textLength="71.20" lengthAdjust="spacingAndGlyphs" >Bayesian Inference</text>
<rect x="209.64999999999998" y="530.6500000000001" width="4.1" height="4.1" fill="#A5A5A5"/>
<text x="216.70" y="535.00" font-size="7.75" font-weight="bold" fill="#000" text-anchor="start" font-family="Liberation Sans, Arial, sans-serif" textLength="117.50" lengthAdjust="spacingAndGlyphs" >Stochastic Differential Equation</text>
<rect x="341.75" y="530.6500000000001" width="4.1" height="4.1" fill="#FFC000"/>
<text x="348.20" y="535.00" font-size="7.75" font-weight="bold" fill="#000" text-anchor="start" font-family="Liberation Sans, Arial, sans-serif" textLength="67.10" lengthAdjust="spacingAndGlyphs" >Machine Learning</text>
<rect x="422.05" y="530.6500000000001" width="4.1" height="4.1" fill="#4472C4"/>
<text x="428.60" y="535.00" font-size="7.75" font-weight="bold" fill="#000" text-anchor="start" font-family="Liberation Sans, Arial, sans-serif" textLength="53.40" lengthAdjust="spacingAndGlyphs" >Deep Learning</text>
<rect x="166.64999999999998" y="541.0500000000001" width="4.1" height="4.1" fill="#70AD47"/>
<text x="173.40" y="545.40" font-size="7.75" font-weight="bold" fill="#000" text-anchor="start" font-family="Liberation Sans, Arial, sans-serif" textLength="89.70" lengthAdjust="spacingAndGlyphs" >Reinforcement Learning</text>
<rect x="269.34999999999997" y="541.0500000000001" width="4.1" height="4.1" fill="#9DC3E6"/>
<text x="275.90" y="545.40" font-size="7.75" font-weight="bold" fill="#000" text-anchor="start" font-family="Liberation Sans, Arial, sans-serif" textLength="80.40" lengthAdjust="spacingAndGlyphs" >Reservoir Computing</text>
</svg>
</body></html>
